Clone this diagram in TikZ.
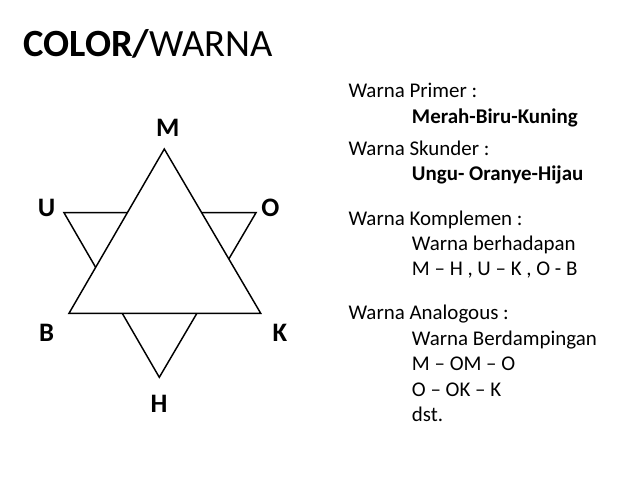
\documentclass[tikz,border=0pt]{standalone}
\usepackage{fontspec}
\setmainfont{Carlito}
\begin{document}
\begin{tikzpicture}[x=0.75pt,y=-0.75pt,
    txt/.style={anchor=base west,inner sep=0pt,font=\fontsize{15.7}{18}\selectfont},
    lbl/.style={anchor=base,inner sep=0pt,font=\fontsize{20}{22}\selectfont\bfseries},
    edge/.style={line width=1.1pt,line join=miter}]
    \useasboundingbox (0,0) rectangle (638,478);

    % the title
    \node[anchor=base west,inner sep=0pt,font=\fontsize{28.9}{32}\selectfont] (title) at (23,56.5)
    {\textbf{COLOR/}WARNA};

    % the star
    \coordinate (m) at (164.3,149);
    \coordinate (b) at (69,313.3);
    \coordinate (k) at (260.7,313.3);
    \coordinate (u) at (64,212.7);
    \coordinate (o) at (256,212.7);
    \coordinate (h) at (159.3,377.3);

    \draw[edge] (u) -- (o) -- (h) -- cycle;
    \draw[edge,fill=white] (m) -- (k) -- (b) -- cycle;

    \node[lbl] (M) at (167.7,136) {M};
    \node[lbl] (U) at (46.7,216) {U};
    \node[lbl] (O) at (270.3,216) {O};
    \node[lbl] (B) at (46.7,341.7) {B};
    \node[lbl] (K) at (280,341.7) {K};
    \node[lbl] (H) at (159,412.7) {H};

    % the texts
    \node[txt] (prim) at (348.3,97.3) {Warna Primer :};
    \node[txt] (primv) at (411.7,123.3) {\bfseries Merah-Biru-Kuning};
    \node[txt] (sek) at (348.3,155) {Warna Skunder :};
    \node[txt] (sekv) at (411.7,180) {\bfseries Ungu- Oranye-Hijau};
    \node[txt] (komp) at (348.3,225) {Warna Komplemen :};
    \node[txt] (komp1) at (411.7,250) {Warna berhadapan};
    \node[txt] (komp2) at (411.7,275.5) {M -- H , U -- K , O - B};
    \node[txt] (ana) at (348.3,319.3) {Warna Analogous :};
    \node[txt] (ana1) at (411.7,345) {Warna Berdampingan};
    \node[txt] (ana2) at (411.7,370.7) {M -- OM -- O};
    \node[txt] (ana3) at (411.7,396.7) {O -- OK -- K};
    \node[txt] (ana4) at (411.7,421.7) {dst.};
\end{tikzpicture}
\end{document}
